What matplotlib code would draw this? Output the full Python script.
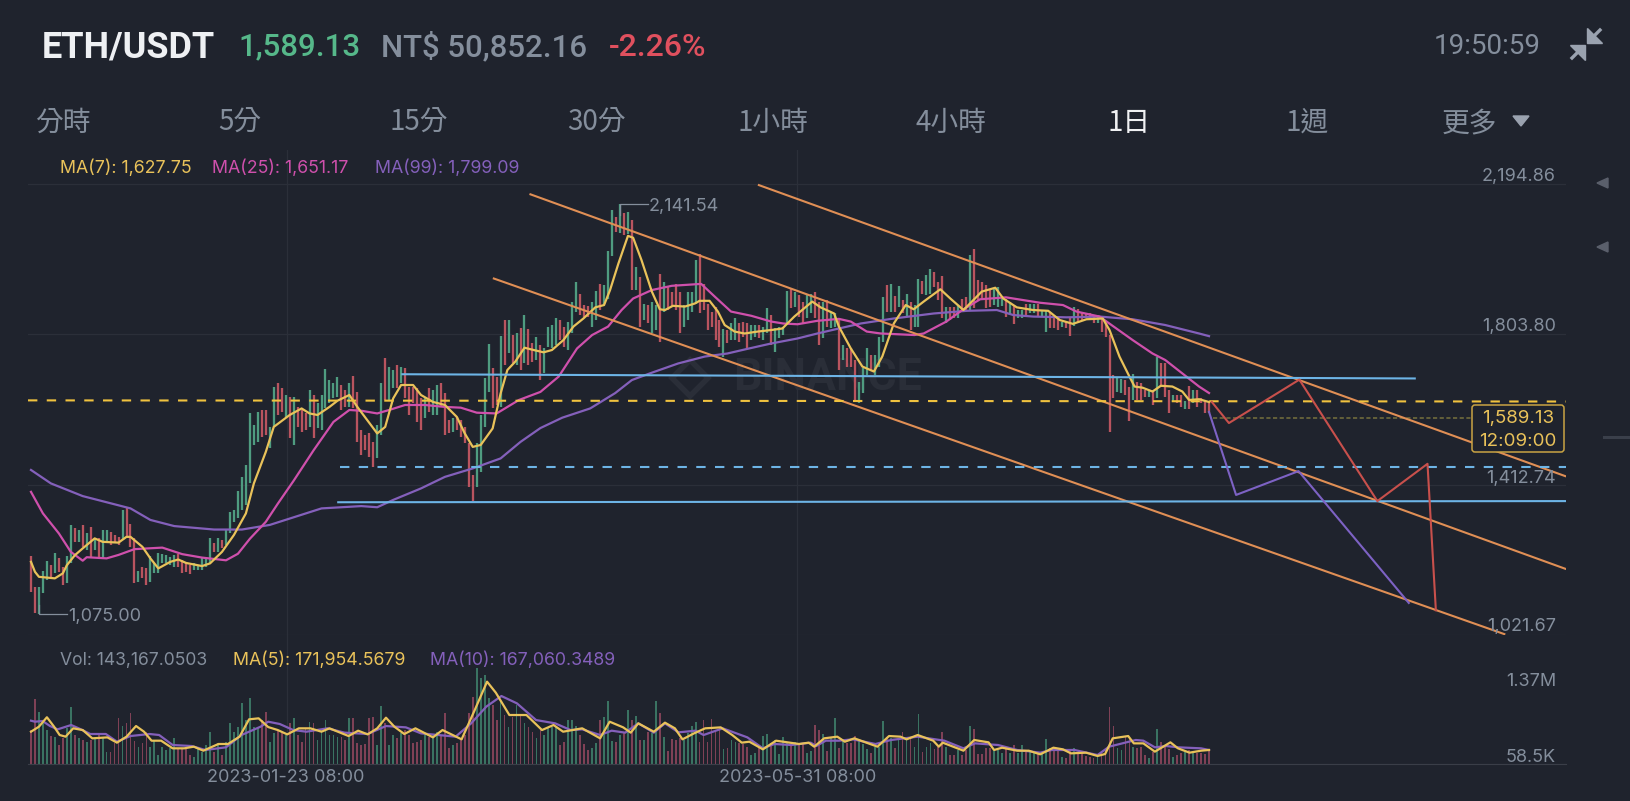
import matplotlib
matplotlib.use("Agg")
import matplotlib.pyplot as plt
import numpy as np
from matplotlib.patches import FancyBboxPatch, Polygon

# daily candles
highs = [
    1227, 1146, 1146, 1189, 1215, 1204, 1236, 1221, 1199, 1227,
    1308, 1299, 1295, 1308, 1286, 1303, 1273, 1273, 1295, 1296,
    1290, 1282, 1277, 1347, 1351, 1310, 1273, 1189, 1199, 1195,
    1227, 1208, 1236, 1232, 1230, 1225, 1230, 1232, 1218, 1212,
    1204, 1208, 1204, 1223, 1225, 1273, 1260, 1275, 1269, 1295,
    1342, 1347, 1397, 1433, 1464, 1598, 1568, 1602, 1607, 1607,
    1563, 1667, 1678, 1663, 1646, 1642, 1642, 1615, 1607, 1598,
    1659, 1646, 1624, 1646, 1713, 1685, 1676, 1694, 1672, 1659,
    1676, 1695, 1655, 1555, 1542, 1546, 1524, 1568, 1678, 1741,
    1720, 1711, 1724, 1720, 1715, 1667, 1667, 1663, 1637, 1637,
    1663, 1659, 1672, 1676, 1650, 1581, 1585, 1589, 1581, 1563,
    1520, 1438, 1520, 1594, 1689, 1778, 1715, 1694, 1799, 1841,
    1841, 1802, 1806, 1819, 1854, 1817, 1780, 1798, 1776, 1767,
    1824, 1828, 1845, 1841, 1824, 1837, 1889, 1941, 1909, 1880,
    1877, 1889, 1917, 1936, 1932, 2021, 2127, 2110, 2141.54, 2119,
    2123, 2101, 1980, 1954, 1884, 1880, 1889, 1880, 1962, 1939,
    1928, 1915, 1936, 1915, 1880, 1915, 1915, 1997, 2014, 1936,
    1884, 1863, 1876, 1841, 1817, 1815, 1832, 1845, 1832, 1837,
    1832, 1828, 1828, 1828, 1824, 1871, 1854, 1819, 1824, 1824,
    1917, 1923, 1915, 1906, 1889, 1906, 1909, 1915, 1889, 1889,
    1893, 1863, 1858, 1845, 1776, 1767, 1767, 1737, 1681, 1715,
    1767, 1750, 1750, 1798, 1900, 1932, 1935, 1904, 1930, 1893,
    1909, 1889, 1880, 1947, 1943, 1958, 1974, 1967, 1941, 1956,
    1876, 1874, 1876, 1880, 1897, 1902, 2010, 2027, 1945, 1941,
    1932, 1919, 1923, 1928, 1904, 1897, 1889, 1880, 1867, 1867,
    1884, 1883, 1884, 1884, 1867, 1867, 1858, 1854, 1850, 1837,
    1837, 1845, 1874, 1869, 1863, 1860, 1858, 1854, 1854, 1845,
    1832, 1802, 1698, 1694, 1687, 1685, 1668, 1701, 1681, 1676,
    1659, 1659, 1659, 1744, 1728, 1728, 1659, 1646, 1646, 1646,
    1630, 1669, 1659, 1659, 1637, 1633, 1624,
]
lows = [
    1134, 1078, 1075, 1130, 1165, 1169, 1182, 1186, 1152, 1158,
    1208, 1264, 1264, 1251, 1243, 1221, 1243, 1221, 1223, 1260,
    1256, 1260, 1256, 1269, 1273, 1251, 1156, 1160, 1169, 1152,
    1160, 1182, 1182, 1208, 1210, 1204, 1199, 1199, 1182, 1186,
    1180, 1192, 1191, 1192, 1199, 1208, 1238, 1238, 1247, 1256,
    1286, 1316, 1325, 1347, 1360, 1416, 1516, 1524, 1537, 1542,
    1507, 1563, 1594, 1602, 1589, 1533, 1516, 1563, 1550, 1555,
    1563, 1533, 1559, 1555, 1611, 1624, 1637, 1641, 1607, 1615,
    1615, 1611, 1524, 1490, 1503, 1485, 1459, 1481, 1542, 1633,
    1633, 1663, 1663, 1676, 1637, 1594, 1624, 1576, 1555, 1585,
    1602, 1594, 1594, 1615, 1542, 1546, 1550, 1555, 1537, 1520,
    1407, 1371, 1407, 1446, 1563, 1654, 1611, 1620, 1615, 1724,
    1754, 1728, 1724, 1711, 1728, 1724, 1733, 1737, 1685, 1702,
    1772, 1767, 1776, 1789, 1772, 1763, 1806, 1863, 1854, 1850,
    1850, 1824, 1841, 1867, 1884, 1897, 2008, 2071, 2067, 2062,
    2066, 1919, 1919, 1824, 1841, 1832, 1806, 1815, 1785, 1863,
    1867, 1876, 1867, 1806, 1824, 1841, 1863, 1884, 1858, 1867,
    1815, 1824, 1789, 1772, 1746, 1780, 1789, 1789, 1785, 1798,
    1767, 1789, 1798, 1793, 1789, 1806, 1776, 1759, 1793, 1802,
    1832, 1871, 1876, 1850, 1832, 1845, 1858, 1845, 1776, 1793,
    1824, 1819, 1824, 1711, 1737, 1720, 1720, 1629, 1624, 1650,
    1698, 1711, 1698, 1720, 1785, 1863, 1863, 1863, 1876, 1858,
    1850, 1815, 1824, 1824, 1909, 1906, 1910, 1928, 1893, 1845,
    1832, 1841, 1845, 1845, 1867, 1867, 1867, 1871, 1893, 1893,
    1871, 1874, 1880, 1876, 1878, 1850, 1854, 1831, 1845, 1845,
    1854, 1858, 1858, 1850, 1850, 1811, 1819, 1819, 1815, 1824,
    1819, 1799, 1825, 1832, 1841, 1845, 1845, 1832, 1834, 1811,
    1798, 1551, 1637, 1655, 1650, 1646, 1579, 1633, 1633, 1633,
    1642, 1642, 1620, 1637, 1668, 1642, 1600, 1628, 1624, 1616,
    1609, 1609, 1624, 1616, 1624, 1598, 1598,
]
# g = up day, r = down day
dirs = (
    "rrgggrgrrg" "grgrgrgrgg" "rrrgrrrgrr" "gggggggrrr" "rgggggrgrg"
    "ggggggggrr" "ggrrgrgrrr" "grggggggrr" "grrrrrrggr" "ggrgrrrrrg"
    "rggrrrgrrr" "rrggggrrgr" "grgrgrrgrg" "gggrrgggrr" "rggrgggrgr"
    "grgrgrggrg" "rrrrggggrr" "rrrrgrggrr" "rggrggrggg" "grgrrggrrg"
    "rggrgrrrgg" "grgggrgrgr" "grggrggrrr" "grrgrrgrrr" "rrgggrgrgg"
    "rggrggrrrg" "rrgrrrrrgr" "rrrggrrgrr" "rgrgrrrgrr" "grgrrrr"
)
# volume in thousands
vols = [
    635, 1209, 978, 822, 635, 523, 498, 355, 480, 667,
    1059, 542, 480, 449, 417, 449, 480, 542, 480, 231,
    231, 386, 866, 710, 760, 959, 436, 324, 386, 604,
    324, 449, 168, 324, 262, 293, 480, 293, 293, 293,
    168, 137, 293, 231, 355, 604, 231, 386, 168, 417,
    760, 604, 698, 1146, 822, 1227, 698, 667, 822, 978,
    417, 573, 635, 573, 542, 760, 854, 542, 417, 667,
    791, 773, 449, 635, 822, 542, 542, 511, 511, 449,
    854, 854, 386, 355, 374, 854, 885, 355, 1084, 760,
    355, 542, 480, 573, 635, 542, 386, 417, 449, 573,
    511, 542, 604, 542, 959, 293, 355, 386, 449, 542,
    947, 1246, 1788, 1601, 1663, 1227, 1103, 822, 1196, 916,
    698, 885, 1103, 916, 760, 698, 604, 480, 635, 542,
    698, 698, 698, 355, 417, 822, 822, 710, 542, 374,
    262, 293, 386, 822, 885, 1177, 436, 417, 542, 573,
    1009, 822, 897, 449, 449, 604, 573, 1184, 947, 511,
    249, 461, 449, 480, 449, 573, 710, 791, 417, 822,
    417, 835, 635, 698, 274, 293, 449, 417, 386, 374,
    312, 168, 212, 293, 523, 561, 399, 449, 187, 498,
    386, 355, 417, 374, 386, 212, 249, 729, 635, 561,
    249, 511, 854, 293, 436, 400, 386, 523, 436, 374,
    274, 199, 324, 312, 804, 511, 480, 293, 449, 592,
    480, 480, 324, 934, 231, 324, 386, 274, 324, 604,
    312, 168, 168, 262, 168, 262, 710, 648, 187, 187,
    293, 293, 249, 262, 199, 293, 199, 355, 199, 355,
    249, 231, 199, 187, 212, 461, 293, 312, 293, 125,
    106, 249, 293, 231, 199, 150, 125, 106, 125, 199,
    262, 1059, 710, 293, 262, 523, 511, 312, 293, 324,
    168, 106, 231, 648, 417, 324, 274, 137, 168, 199,
    231, 262, 231, 199, 200, 180, 260, 240,
]

# moving averages, vertices (candle number, value)
ma7_x = [0, 1, 2, 6, 8, 9, 11, 13, 16, 18, 22, 24, 25, 28, 30, 32, 35, 37, 39, 43, 45, 48, 51, 54,
         56, 59, 61, 65, 68, 70, 72, 75, 77, 80, 82, 87, 89, 91, 93, 96, 98, 101, 104, 107, 109,
         111, 113, 116, 118, 119.7, 121.7, 124, 126.3, 128.8, 130.9, 133.8, 136.3, 138.8, 141.8,
         144, 145.5, 147.6, 150, 151.3, 153.4, 156, 158, 159.3, 161.3, 164.3, 166.8, 168, 170.5,
         172.6, 174.3, 176.8, 179.3, 182.6, 186, 188.8, 191.8, 196.3, 198.4, 201.8, 203, 206,
         208.9, 211.8, 213.9, 216.8, 219.8, 221.8, 224.3, 228.5, 231, 234.3, 236.8, 238.9, 242.3,
         244.3, 247.7, 251.8, 255.6, 258.5, 261.8, 265.2, 269.3, 271, 273.5, 276, 277.3, 279.3,
         281.8, 283.9, 286.8, 289.3, 291, 293.5, 296]
ma7 = [1212, 1186, 1173, 1169, 1182, 1203, 1229, 1247, 1273, 1264, 1262, 1277, 1277, 1251, 1221, 1195,
       1212, 1218, 1209, 1201, 1208, 1238, 1282, 1338, 1416, 1498, 1563, 1594, 1611, 1598, 1594,
       1615, 1631, 1646, 1615, 1546, 1563, 1637, 1672, 1672, 1646, 1628, 1620, 1589, 1546, 1511,
       1516, 1559, 1650, 1711, 1733, 1769, 1763, 1757, 1763, 1789, 1824, 1845, 1874, 1880, 1919,
       1988, 2060, 2055, 1997, 1915, 1869, 1867, 1878, 1876, 1884, 1891, 1891, 1863, 1828, 1811,
       1806, 1811, 1815, 1819, 1850, 1889, 1874, 1858, 1824, 1767, 1720, 1707, 1746, 1832, 1880,
       1869, 1889, 1921, 1897, 1867, 1893, 1915, 1925, 1897, 1874, 1867, 1865, 1841, 1831, 1843,
       1845, 1815, 1746, 1694, 1668, 1665, 1655, 1670, 1668, 1655, 1633, 1635, 1627.75]
ma25_x = [0, 3, 7, 10, 13, 14, 19, 22, 26, 33, 38, 43, 49, 52, 55, 59, 62, 66, 71, 76, 80, 83, 87, 90,
          94, 99, 104, 108, 112, 117, 122.6, 128, 132.6, 137.2, 141, 145, 148.4, 151.3, 156, 161,
          168.4, 171.8, 175.9, 181, 186, 189, 192.6, 197.6, 203, 206, 210, 213.5, 222, 224.3, 230,
          234, 238.5, 245, 253.5, 259.3, 262.7, 268.5, 276.8, 281.8, 285, 293.5, 296]
ma25 = [1394, 1338, 1286, 1238, 1215, 1224, 1221, 1230, 1245, 1249, 1232, 1223, 1216, 1233, 1272, 1316,
        1363, 1423, 1502, 1576, 1607, 1605, 1598, 1607, 1620, 1620, 1615, 1613, 1600, 1598, 1633,
        1654, 1694, 1767, 1802, 1824, 1867, 1897, 1919, 1930, 1935, 1902, 1863, 1852, 1837, 1832,
        1830, 1839, 1844, 1837, 1811, 1806, 1802, 1806, 1837, 1867, 1895, 1900, 1886, 1880, 1863,
        1850, 1789, 1754, 1737, 1668, 1651.17]
ma99_x = [0, 5, 13, 25, 30, 36, 46, 53, 60, 73, 83, 87, 91, 98, 104, 111, 118, 123, 128, 133.5, 140.5,
          146.8, 151, 156, 162.6, 169.3, 175, 180, 186, 192.6, 197.6, 203, 208.5, 216.8, 226.8,
          235.2, 242.7, 246.8, 251.8, 260.2, 268.5, 276.8, 285, 293.5, 296]
ma99 = [1451, 1416, 1383, 1351, 1321, 1305, 1296, 1296, 1308, 1351, 1357, 1354, 1373, 1403, 1433, 1455,
        1481, 1524, 1560, 1587, 1611, 1651, 1685, 1704, 1728, 1746, 1754, 1766, 1780, 1793, 1806,
        1819, 1832, 1845, 1858, 1865, 1867, 1854, 1850, 1848, 1850, 1843, 1828, 1806, 1799.09]
vol5_x = [0, 2, 4, 5.8, 7.2, 8.7, 10.6, 13, 15.4, 19.2, 21.6, 24, 26.4, 28.4, 30.3, 32.7, 35.6, 38.5,
          40.9, 43.3, 47.1, 49.5, 52.4, 54.8, 57.2, 59.6, 62, 64.4, 67.3, 70.2, 73, 75, 79.8, 82.2,
          84.6, 87, 89.2, 91.3, 93.8, 96.6, 101, 103.4, 108.2, 111.5, 114.6, 116.8, 120.2, 124.5,
          128.4, 131.3, 133.7, 138.5, 143, 145.4, 148.8, 150.7, 152.6, 156.5, 159.3, 161.8, 163.7,
          166.6, 169.4, 173.3, 176.2, 178.6, 180.5, 183.9, 187.2, 193, 195.4, 196.8, 199.3, 202.6,
          204.5, 206.9, 212.7, 215.6, 218.5, 220, 222.8, 226.7, 228.1, 229.1, 234.3, 237, 240.6,
          242, 244, 247.8, 250.7, 253.6, 256.9, 259.3, 261.3, 265.1, 268, 269.9, 271.8, 275.7,
          277.1, 279.5, 282.4, 286.3, 288.2, 291.1, 294, 296]
vol5 = [604, 698, 874, 698, 542, 511, 667, 635, 480, 498, 399, 511, 710, 604, 436, 436, 293, 293, 324,
        249, 374, 374, 511, 835, 854, 691, 635, 554, 667, 667, 604, 667, 523, 623, 554, 667, 866,
        698, 561, 667, 498, 635, 461, 1009, 1539, 1333, 916, 916, 635, 729, 604, 667, 480, 791,
        685, 586, 760, 604, 773, 667, 461, 573, 667, 685, 542, 399, 417, 274, 436, 374, 399, 324,
        480, 511, 417, 480, 324, 523, 511, 461, 542, 436, 324, 399, 249, 449, 405, 262, 305, 249,
        249, 181, 305, 274, 199, 212, 150, 187, 480, 523, 386, 386, 231, 405, 293, 212, 249, 262]
vol10_x = [0, 1, 2.9, 4.8, 6.7, 10.1, 12, 14.9, 18.8, 21.6, 25, 29.8, 32.2, 35.6, 40.4, 43.8, 49, 52.9,
           57.7, 59.6, 62.5, 65.9, 69.2, 74.5, 78.8, 84.6, 89.2, 94.2, 98, 106.7, 110.6, 114.4,
           118.2, 122.1, 126.9, 131.7, 135.6, 138.5, 143, 145.9, 149.3, 152.6, 156.5, 159.3, 162.7,
           167, 169, 173.8, 180, 183.9, 186.8, 191.1, 195.9, 197.3, 199.7, 203, 206.5, 212.2, 216.1,
           222.8, 229.5, 234.3, 237.2, 243, 247.8, 253.6, 256.5, 262.2, 268, 270.9, 277.6, 279.5,
           282.4, 285.3, 288.2, 294, 296]
vol10 = [810, 791, 804, 710, 648, 729, 667, 561, 561, 417, 523, 561, 542, 355, 336, 262, 312, 542, 698,
         791, 748, 635, 604, 667, 586, 561, 710, 685, 573, 511, 760, 1072, 1271, 1134, 822, 760,
         635, 648, 542, 623, 586, 760, 586, 760, 592, 623, 542, 667, 498, 293, 374, 355, 399, 336,
         436, 436, 461, 374, 449, 511, 436, 293, 386, 355, 262, 212, 262, 262, 168, 324, 449, 436,
         312, 336, 312, 293, 262]

# hand drawn trend lines on the chart: (x0, p0, x1, p1)
channel_lines = [(182.9, 2192, 385.5, 1435), (125.5, 2168, 385.5, 1194), (116.3, 1949, 370.2, 1024)]
red_x = [296.7, 301, 318.7, 338.3, 350.9, 353]
red_p = [1628, 1573, 1686, 1370, 1467, 1086]
purple_x = [296, 302.8, 318.5, 346.2]
purple_p = [1602, 1386, 1448, 1105]

BG = "#1f232d"
GRID = "#2b2f39"
GREY = "#848e9c"
YEL = "#e9c25a"
PINK = "#cf50ac"
PURP = "#8460bb"
UP, DOWN = "#4f9c80", "#b9545f"
ORANGE = "#e08f55"
BLUE = "#6db4e6"
W, H = 1630, 801

plt.rcParams["font.family"] = ["Inter", "Noto Sans CJK TC", "DejaVu Sans"]


def axes_px(fig, left, top, right, bottom):
    return fig.add_axes([left / W, 1 - bottom / H, (right - left) / W, (bottom - top) / H])


fig = plt.figure(figsize=(W / 100, H / 100), dpi=100, facecolor=BG)

# watermark sits under everything
under = axes_px(fig, 0, 0, W, H)
under.set_zorder(-1)
under.set_xlim(0, W)
under.set_ylim(H, 0)
under.axis("off")
under.text(733, 378, "BINANCE", color="#2a2e38", fontsize=32, fontweight="bold", va="center",
           family=["Roboto"])
under.add_patch(Polygon([(690, 360), (708, 378), (690, 396), (672, 378)], closed=True, fill=False,
                        ec="#2a2e38", lw=4))

ax = axes_px(fig, 28, 150, 1566, 635)
vax = axes_px(fig, 28, 635, 1566, 764)
ov = axes_px(fig, 0, 0, W, H)
ov.set_zorder(5)
ov.set_xlim(0, W)
ov.set_ylim(H, 0)
ov.axis("off")

idx = np.arange(len(dirs))
date_ticks = [64.3, 192.4]
for a in (ax, vax):
    a.patch.set_alpha(0)
    a.set_xlim(-0.75, 385.7)
    for s in a.spines.values():
        s.set_visible(False)
    a.tick_params(length=0, labelbottom=False, labelleft=False)
    a.set_xticks(date_ticks)
    a.grid(True, color=GRID, lw=0.9, zorder=0)
    a.set_axisbelow(True)

ax.set_ylim(1021.67, 2283.3)
ax.set_yticks([2194.86, 1803.80, 1412.74, 1021.67])
vax.set_ylim(0, 2412)
vax.set_yticks([0])
vax.grid(True, axis="x", color=GRID, lw=0.9)
vax.spines["bottom"].set_visible(True)
vax.spines["bottom"].set_color("#3a3e48")

col = [UP if d == "g" else DOWN for d in dirs]
ax.vlines(idx, lows, highs, colors=col, lw=1.65, zorder=2)
ax.plot(ma99_x, ma99, color=PURP, lw=1.6, zorder=3, solid_joinstyle="round")
ax.plot(ma25_x, ma25, color=PINK, lw=1.6, zorder=3, solid_joinstyle="round")
ax.plot(ma7_x, ma7, color=YEL, lw=1.6, zorder=3, solid_joinstyle="round")

# annotations
for x0, p0, x1, p1 in channel_lines:
    ax.plot([x0, x1], [p0, p1], color=ORANGE, lw=1.5, zorder=4)
ax.plot([93.3, 347.7], [1700, 1689], color=BLUE, lw=1.5, zorder=4)
ax.plot([77.2, 385.7], [1367, 1370], color=BLUE, lw=1.5, zorder=4)
ax.plot([77.7, 385.7], [1459, 1459], color=BLUE, lw=1.5, ls=(0, (4.5, 4.5)), zorder=4)
ax.plot([-0.75, 385.7], [1632, 1629], color="#f0c23f", lw=1.5, ls=(0, (4.5, 4.5)), zorder=4)
ax.plot([297, 362], [1586, 1586], color="#6f6a3c", lw=1.2, ls=(0, (2.5, 1.5)), zorder=2)
ax.plot(red_x, red_p, color="#c8504c", lw=1.5, zorder=4)
ax.plot(purple_x, purple_p, color="#7d62c4", lw=1.5, zorder=4)

# high / low markers
ax.plot([148, 148, 155], [2115, 2141.54, 2141.54], color=GREY, lw=0.9, zorder=3)
ax.plot([2, 2, 9], [1100, 1075, 1075], color=GREY, lw=0.9, zorder=3)
ov.text(649, 206, "2,141.54", color=GREY, fontsize=13, va="center")
ov.text(68, 617, "1,075.00", color=GREY, fontsize=13, va="center")

vcol = ["#3a7362" if d == "g" else "#7f4156" for d in dirs]
v = vols[:len(dirs)]
vax.bar(idx[:len(v)], v, width=0.45, color=vcol[:len(v)], zorder=2)
vax.plot(vol10_x, vol10, color=PURP, lw=1.6, zorder=3)
vax.plot(vol5_x, vol5, color=YEL, lw=1.6, zorder=3)

# header
hdr = ["Roboto", "Noto Sans CJK TC"]
ov.text(42, 47, "ETH/USDT", color="#eef0f3", fontsize=26, fontweight="bold", va="center", family=hdr)
ov.text(238, 47, "1,589.13", color="#56b88a", fontsize=22.5, fontweight="medium", va="center", family=hdr)
ov.text(381, 47, "NT$ 50,852.16", color=GREY, fontsize=22.5, fontweight="medium", va="center", family=hdr)
ov.text(609, 47, "-2.26%", color="#e0505e", fontsize=23, fontweight="medium", va="center", family=hdr)
ov.text(1541, 47, "19:50:59", color=GREY, fontsize=20, ha="right", va="center", family=hdr)

# collapse icon
ov.add_patch(Polygon([(1587, 28), (1587, 43), (1602, 43)], color="#9aa2af"))
ov.plot([1591, 1600], [39, 30], color="#9aa2af", lw=2.4)
ov.add_patch(Polygon([(1570, 45), (1585, 45), (1585, 60)], color="#9aa2af"))
ov.plot([1581, 1572], [49, 58], color="#9aa2af", lw=2.4)

# period tabs
tabs = ["分時", "5分", "15分", "30分", "1小時", "4小時", "1日", "1週", "更多"]
tab_x = [63, 240, 419, 596, 773, 951, 1129, 1307, 1469]
for t, tx in zip(tabs, tab_x):
    on = t == "1日"
    ov.text(tx, 123, t, color="#f0f1f3" if on else GREY, fontsize=20, ha="center", va="center",
            family=["Noto Sans CJK TC"], fontweight="medium" if on else "regular")
ov.add_patch(Polygon([(1513, 116), (1529, 116), (1521, 126)], color="#9aa2af"))

# legends
ov.text(60, 168, "MA(7): 1,627.75", color=YEL, fontsize=12.8, va="center")
ov.text(212, 168, "MA(25): 1,651.17", color=PINK, fontsize=12.8, va="center")
ov.text(375, 168, "MA(99): 1,799.09", color=PURP, fontsize=12.8, va="center")
ov.text(60, 660, "Vol: 143,167.0503", color=GREY, fontsize=12.6, va="center")
ov.text(233, 660, "MA(5): 171,954.5679", color=YEL, fontsize=12.8, va="center")
ov.text(430, 660, "MA(10): 167,060.3489", color=PURP, fontsize=12.8, va="center")

# axis labels
for txt, y in [("2,194.86", 177), ("1,803.80", 327), ("1,412.74", 478), ("1,021.67", 627),
               ("1.37M", 681), ("58.5K", 758)]:
    ov.text(1556, y, txt, color=GREY, fontsize=13, ha="right", va="center")
ov.text(286, 777, "2023-01-23 08:00", color=GREY, fontsize=13, ha="center", va="center")
ov.text(798, 777, "2023-05-31 08:00", color=GREY, fontsize=13, ha="center", va="center")

# last price tag
ov.add_patch(FancyBboxPatch((1472, 405), 92, 47, boxstyle="round,pad=0,rounding_size=3",
                            fc=BG, ec="#c9a444", lw=1.1))
ov.text(1518, 418, "1,589.13", color=YEL, fontsize=13.5, ha="center", va="center")
ov.text(1518, 441, "12:09:00", color=YEL, fontsize=13.5, ha="center", va="center")

# side handles
for y in (183, 247):
    ov.add_patch(Polygon([(1597, y), (1608, y - 5), (1608, y + 5)], color="#5a5f6b"))
ov.plot([1604, 1630], [437, 437], color="#3a3f4a", lw=2.2)

fig.savefig("out.png", dpi=100, facecolor=BG)
